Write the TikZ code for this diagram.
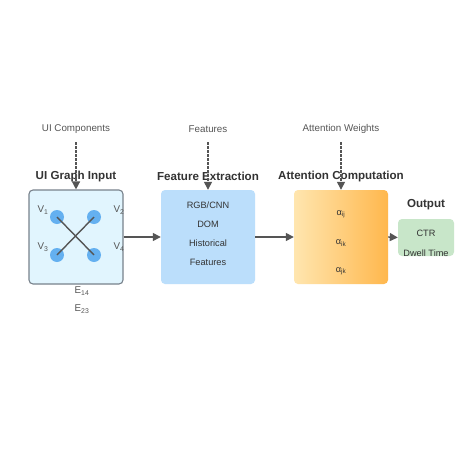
\documentclass[tikz,border=0pt]{standalone}
\usepackage{fontspec}
\setmainfont{Liberation Sans}
\usetikzlibrary{arrows.meta}
\definecolor{graphfill}{RGB}{225,245,254}
\definecolor{graphdraw}{RGB}{120,130,140}
\definecolor{featfill}{RGB}{187,222,251}
\definecolor{attleft}{RGB}{255,230,175}
\definecolor{attright}{RGB}{255,183,77}
\definecolor{outfill}{RGB}{200,230,201}
\definecolor{vnode}{RGB}{100,176,240}
\definecolor{labgray}{RGB}{85,85,85}
\definecolor{titlegray}{RGB}{51,51,51}
\definecolor{conngray}{RGB}{85,85,85}
\begin{document}
\begin{tikzpicture}[x=1pt,y=-1pt,
  boxsty/.style={rounded corners=4pt, minimum width=94pt, minimum height=94pt, inner sep=0pt},
  titlesty/.style={font=\fontsize{11.6}{13}\selectfont\bfseries, text=titlegray, inner sep=0pt},
  labsty/.style={font=\fontsize{9.8}{11}\selectfont, text=labgray, inner sep=0pt},
  intext/.style={font=\fontsize{9.2}{11}\selectfont, text=titlegray, inner sep=0pt},
  conn/.style={draw=conngray, line width=1.4pt, -{Triangle[length=8pt,width=8pt]}},
  dashconn/.style={draw=conngray, line width=1.3pt, dash pattern=on 2.5pt off 1.5pt, -{Triangle[length=8pt,width=8pt]}},
  vsty/.style={circle, fill=vnode, minimum size=14pt, inner sep=0pt},
  esty/.style={draw=conngray, line width=1.4pt}]
\useasboundingbox (0,0) rectangle (474,474);
\fill[white] (0,0) rectangle (474,474);

% boxes
\node[boxsty, fill=graphfill, draw=graphdraw, line width=1.1pt] (g) at (76,237) {};
\node[boxsty, fill=featfill] (f) at (208,237) {};
\node[boxsty, left color=attleft, right color=attright] (a) at (341,237) {};
\node[rounded corners=4pt, minimum width=56pt, minimum height=37pt, inner sep=0pt, fill=outfill] (o) at (426,237.5) {};

% titles
\node[titlesty] (tg) at (76,176) {UI Graph Input};
\node[titlesty] (tf) at (208,176) {Feature Extraction};
\node[titlesty] (ta) at (341,176) {Attention Computation};
\node[titlesty] (to) at (426,205) {Output};

% top labels
\node[labsty] (lg) at (76,129) {UI Components};
\node[labsty] (lf) at (208,129) {Features};
\node[labsty] (la) at (341,129) {Attention Weights};
\coordinate (cg) at (76,142);
\coordinate (cf) at (208,142);
\coordinate (ca) at (341,142);
\draw[dashconn] (cg) -- (g.north);
\draw[dashconn] (cf) -- (f.north);
\draw[dashconn] (ca) -- (a.north);

% graph
\node[vsty] (v1) at (57,217) {};
\node[vsty] (v2) at (94,217) {};
\node[vsty] (v3) at (57,255) {};
\node[vsty] (v4) at (94,255) {};
\draw[esty] (v1.center) -- (v4.center);
\draw[esty] (v2.center) -- (v3.center);
\node[labsty] (l1) at (43,210) {V\textsubscript{1}};
\node[labsty] (l2) at (119,210) {V\textsubscript{2}};
\node[labsty] (l3) at (43,247) {V\textsubscript{3}};
\node[labsty] (l4) at (119,247) {V\textsubscript{4}};
\node[labsty] (e1) at (82,291) {E\textsubscript{14}};
\node[labsty] (e2) at (82,309) {E\textsubscript{23}};

% feature texts
\node[intext] (f1) at (208,205) {RGB/CNN};
\node[intext] (f2) at (208,224) {DOM};
\node[intext] (f3) at (208,243) {Historical};
\node[intext] (f4) at (208,262) {Features};

% attention texts
\node[intext] (a1) at (341,214) {α\textsubscript{ij}};
\node[intext] (a2) at (341,243) {α\textsubscript{ik}};
\node[intext] (a3) at (341,271) {α\textsubscript{jk}};

% output texts
\node[intext] (o1) at (426,233) {CTR};
\node[intext] (o2) at (426,253) {Dwell Time};

% connectors
\draw[conn] (g.east) -- (f.west);
\draw[conn] (f.east) -- (a.west);
\draw[conn] (a.east) -- (o.west);
\end{tikzpicture}
\end{document}
